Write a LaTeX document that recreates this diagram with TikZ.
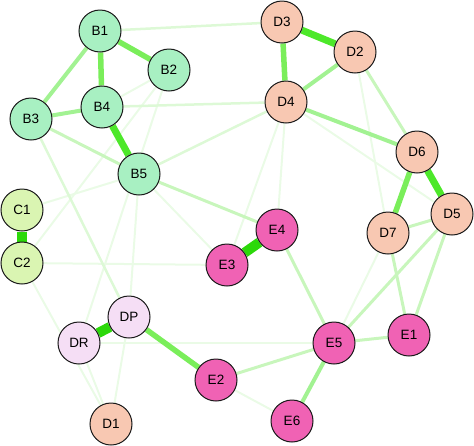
\documentclass[tikz,border=0pt]{standalone}
\usepackage{fontspec}
\setmainfont{Liberation Sans}
\usepackage{xcolor}
\usetikzlibrary{backgrounds}

\definecolor{bnode}{HTML}{A8F0C2}
\definecolor{cnode}{HTML}{DAF5B2}
\definecolor{dnode}{HTML}{F8C8B2}
\definecolor{enode}{HTML}{F062B4}
\definecolor{pnode}{HTML}{F5DEF5}
\definecolor{wstrong}{HTML}{2CD80A}
\definecolor{wbold}{HTML}{4DE82A}
\definecolor{wmed}{HTML}{7AEE5A}
\definecolor{wmid}{HTML}{A2F292}
\definecolor{wlight}{HTML}{C8F6BC}
\definecolor{wpale}{HTML}{DDF9D6}
\definecolor{wfaint}{HTML}{EAFBE6}

\begin{document}
\begin{tikzpicture}[x=1pt, y=-1pt,
    vert/.style={circle, draw=black!90, line width=1pt, minimum size=42pt, inner sep=0pt, font=\fontsize{13.5}{15}\selectfont},
    strong/.style={wstrong, line width=10pt},
    bold/.style={wbold, line width=7pt},
    med/.style={wmed, line width=5.5pt},
    mid/.style={wmid, line width=4pt},
    light/.style={wlight, line width=3pt},
    pale/.style={wpale, line width=2.5pt},
    faint/.style={wfaint, line width=2pt}]
    \useasboundingbox (0,0) rectangle (474,445);

    \node (b1) [vert, fill=bnode] at (100,31) {B1};
    \node (b2) [vert, fill=bnode] at (169,70) {B2};
    \node (b3) [vert, fill=bnode] at (31,119) {B3};
    \node (b4) [vert, fill=bnode] at (102,107) {B4};
    \node (b5) [vert, fill=bnode] at (139,174) {B5};
    \node (c1) [vert, fill=cnode] at (22,210) {C1};
    \node (c2) [vert, fill=cnode] at (22,263) {C2};
    \node (d3) [vert, fill=dnode] at (282,22) {D3};
    \node (d2) [vert, fill=dnode] at (355,52) {D2};
    \node (d4) [vert, fill=dnode] at (286,102) {D4};
    \node (d6) [vert, fill=dnode] at (417,152) {D6};
    \node (d5) [vert, fill=dnode] at (452,214) {D5};
    \node (d7) [vert, fill=dnode] at (388,233) {D7};
    \node (d1) [vert, fill=dnode] at (111,424) {D1};
    \node (e4) [vert, fill=enode] at (277,230) {E4};
    \node (e3) [vert, fill=enode] at (227,265) {E3};
    \node (e2) [vert, fill=enode] at (216,380) {E2};
    \node (e5) [vert, fill=enode] at (334,343) {E5};
    \node (e1) [vert, fill=enode] at (409,335) {E1};
    \node (e6) [vert, fill=enode] at (292,421) {E6};
    \node (dp) [vert, fill=pnode] at (129,317) {DP};
    \node (dr) [vert, fill=pnode] at (79,343) {DR};

    \begin{pgfonlayer}{background}
    \draw[faint] (d4) -- (e4);
    \draw[faint] (d4) -- (d5);
    \draw[faint] (d2) -- (d7);
    \draw[faint] (c2) -- (e3);
    \draw[faint] (dr) -- (e5);
    \draw[faint] (c2) -- (d1);
    \draw[faint] (dr) -- (d1);
    \draw[faint] (dp) -- (d1);
    \draw[faint] (c1) -- (b5);
    \draw[faint] (c2) -- (b2);
    \draw[faint] (b5) -- (e3);
    \draw[faint] (b5) -- (dp);
    \draw[faint] (b2) -- (b4);
    \draw[faint] (b2) -- (dr);
    \draw[faint] (e2) -- (e6);
    \draw[faint] (e5) -- (d7);
    \draw[faint] (d4) -- (e3);
    \draw[pale] (b1) -- (d3);
    \draw[pale] (b4) -- (d4);
    \draw[pale] (b5) -- (d4);
    \draw[pale] (b3) -- (dp);
    \draw[light] (b3) -- (b5);
    \draw[light] (b5) -- (e4);
    \draw[light] (d2) -- (d6);
    \draw[light] (d7) -- (d5);
    \draw[light] (d7) -- (e1);
    \draw[light] (d5) -- (e1);
    \draw[light] (d5) -- (e5);
    \draw[light] (e4) -- (e5);
    \draw[light] (e5) -- (e1);
    \draw[light] (e5) -- (e2);
    \draw[mid] (b1) -- (b3);
    \draw[mid] (b3) -- (b4);
    \draw[mid] (d2) -- (d4);
    \draw[mid] (d4) -- (d6);
    \draw[mid] (e5) -- (e6);
    \draw[med] (b1) -- (b4);
    \draw[med] (b1) -- (b2);
    \draw[med] (d3) -- (d4);
    \draw[med] (d6) -- (d7);
    \draw[med] (dp) -- (e2);
    \draw[bold] (d6) -- (d5);
    \draw[bold] (b4) -- (b5);
    \draw[bold] (d3) -- (d2);
    \draw[strong] (c1) -- (c2);
    \draw[strong] (dp) -- (dr);
    \draw[strong] (e3) -- (e4);
    \end{pgfonlayer}
\end{tikzpicture}
\end{document}
